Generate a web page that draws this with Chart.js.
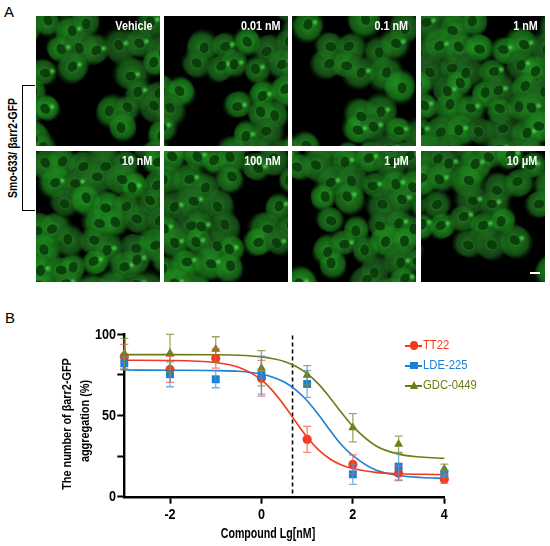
<!DOCTYPE html>
<html>
<head>
<meta charset="utf-8">
<script src="https://cdn.jsdelivr.net/npm/chart.js@4.4.1/dist/chart.umd.min.js"></script>
<style>
  html, body { margin: 0; padding: 0; background: #fff; }
  #fig {
    position: relative; width: 550px; height: 546px; overflow: hidden;
    font-family: "Liberation Sans", Arial, sans-serif;
  }
  .panel-letter { position: absolute; font: 15px "Liberation Sans", Arial, sans-serif; color: #000; }
  .micro { position: absolute; display: block; }
  .micro-tag {
    position: absolute; color: #fff; font-weight: bold; font-size: 13.5px; line-height: 13px;
    white-space: nowrap; transform: scaleX(0.8); transform-origin: right center;
  }
  .bracket { position: absolute; border: 1.3px solid #000; border-right: none; }
  .rot { position: absolute; white-space: nowrap; font-weight: bold; line-height: 1; }
  #chart-wrap { position: absolute; left: 0; top: 300px; width: 550px; height: 246px; }
  .legend-row { position: absolute; left: 405px; height: 14px; }
  .legend-row .seg { position: absolute; left: 0; top: 6.3px; width: 17px; height: 1.5px; }
  .legend-row .mk { position: absolute; }
  .legend-row .txt {
    position: absolute; left: 18px; top: -0.5px; font-size: 12.5px; line-height: 14px; white-space: nowrap;
    transform: scaleX(0.9); transform-origin: left center;
  }
</style>
</head>
<body>
<div id="fig">
  <div class="panel-letter" style="left:4px; top:3px;">A</div>
  <div class="panel-letter" style="left:5px; top:309px;">B</div>

  <div id="micro-layer"></div>

  <div class="bracket" style="left:22px; top:84.5px; width:12px; height:124px;"></div>
  <div class="rot" id="bracket-label" style="font-size:13px;">Smo-633/ βarr2-GFP</div>

  <div id="chart-wrap"><canvas id="dose-chart" width="550" height="246"></canvas></div>

  <div class="rot" id="ytitle-1" style="font-size:12.5px;">The number of βarr2-GFP</div>
  <div class="rot" id="ytitle-2" style="font-size:12.5px;">aggregation (%)</div>
  <div class="rot" id="xtitle" style="font-size:14px;">Compound Lg[nM]</div>

  <div id="legend"></div>
</div>

<script>
// --- Data ---
const doses = [-3, -2, -1, 0, 1, 2, 3, 4];           // Lg[nM]
const tt22Mean   = [86.2, 78.4, 85.2, 72.9, 35.3, 19.9, 14.4, 10.7];
const tt22Err    = [7.6, 8.0, 6.0, 11.0, 8.0, 5.8, 4.5, 2.5];
const lde225Mean = [82.1, 75.4, 72.3, 74.9, 69.4, 13.8, 18.5, 14.0];
const lde225Err  = [4.0, 7.7, 5.2, 11.7, 8.2, 6.2, 8.2, 2.0];
const gdcMean    = [88.0, 88.3, 90.8, 79.1, 74.9, 42.5, 32.3, 17.1];
const gdcErr     = [9.5, 11.7, 7.7, 10.8, 5.8, 8.7, 5.0, 3.0];

// fitted curves
const curveX     = [-3, -2, -1, -0.5, 0, 0.25, 0.5, 0.75, 1, 1.25, 1.5, 1.75, 2, 2.5, 3, 3.5, 4];
const tt22Fit    = [84.0, 83.9, 82.6, 79.7, 71.9, 65.0, 56.2, 46.2, 36.6, 28.8, 23.2, 19.5, 17.4, 15.0, 14.1, 13.8, 13.6];
const lde225Fit  = [78.0, 77.9, 77.7, 77.2, 75.4, 73.6, 70.6, 65.8, 59.1, 50.4, 40.9, 32.0, 25.3, 16.4, 13.1, 11.8, 11.3];
const gdcFit     = [87.5, 87.5, 87.4, 87.1, 86.1, 85.0, 83.3, 80.3, 75.8, 69.3, 61.0, 51.8, 43.3, 31.4, 26.2, 24.4, 23.6];

const ic50Line = 0.68;
const xTicks = [-2, 0, 2, 4];
const yTicks = [0, 25, 50, 75, 100];
const yLabels = [0, 50, 100];

const seriesNames = ['TT22', 'LDE-225', 'GDC-0449'];
const seriesColors = ['#f4391f', '#1d7fd3', '#6b7d14'];
const errColors = ['rgba(244,90,70,0.75)', 'rgba(70,150,220,0.75)', 'rgba(120,140,50,0.75)'];
const markerStyles = ['circle', 'rect', 'triangle'];
const markerSizes = [4.6, 5.6, 5.2];

const panelTags = ['Vehicle', '0.01 nM', '0.1 nM', '1 nM', '10 nM', '100 nM', '1 μM', '10 μM'];

// --- Layout helpers ---
function placeRotated(id, cx, cy, squeeze) {
  const el = document.getElementById(id);
  el.style.left = cx + 'px';
  el.style.top = cy + 'px';
  el.style.transform = `translate(-50%, -50%) rotate(-90deg) scaleX(${squeeze})`;
}
function placeCentered(id, cx, cy, squeeze) {
  const el = document.getElementById(id);
  el.style.left = cx + 'px';
  el.style.top = cy + 'px';
  el.style.transform = `translate(-50%, -50%) scaleX(${squeeze})`;
}

// --- Panel A: micrograph stand-ins ---
const panelCols = [36, 164, 292, 421];
const panelRows = [{ top: 16, h: 130 }, { top: 151, h: 131 }];
const panelW = 124;

function paintCells(canvas, seed) {
  const ctx = canvas.getContext('2d');
  const w = canvas.width, h = canvas.height;
  ctx.fillStyle = '#000';
  ctx.fillRect(0, 0, w, h);
  const hash = n => { const s = Math.sin(n * 127.1 + seed * 311.7) * 43758.5453; return s - Math.floor(s); };

  const cells = [];
  let k = 0;
  for (let gy = -1; gy < 7; gy++) {
    for (let gx = -1; gx < 7; gx++) {
      k++;
      const cx = gx * 21 + 10 + (gy % 2) * 10 + (hash(k + 0.31) - 0.5) * 12;
      const cy = gy * 21 + 10 + (hash(k + 0.77) - 0.5) * 12;
      const region = hash(Math.floor((cx + 30) / 48) * 7.3 + Math.floor((cy + 30) / 48) * 3.1 + 0.5);
      if (region < 0.22 || hash(k) < 0.1) continue;
      cells.push({ cx, cy, r: 15 + hash(k + 0.93) * 6, rot: hash(k + 1.13) * 3, b: 0.65 + hash(k + 1.7) * 0.35, k });
    }
  }
  // cytoplasm, soft and overlapping
  cells.forEach(c => {
    const g = ctx.createRadialGradient(c.cx, c.cy, 3, c.cx, c.cy, c.r);
    g.addColorStop(0, `rgba(35,${Math.round(165 * c.b)},35,0.85)`);
    g.addColorStop(0.6, `rgba(28,${Math.round(140 * c.b)},28,0.7)`);
    g.addColorStop(1, 'rgba(10,60,10,0)');
    ctx.fillStyle = g;
    ctx.beginPath();
    ctx.ellipse(c.cx, c.cy, c.r, c.r * 0.8, c.rot, 0, Math.PI * 2);
    ctx.fill();
  });
  // nuclei and perinuclear spots
  cells.forEach(c => {
    const nx = c.cx + (hash(c.k + 2.1) - 0.5) * 5, ny = c.cy + (hash(c.k + 2.5) - 0.5) * 5;
    ctx.fillStyle = 'rgba(8,55,8,0.85)';
    ctx.strokeStyle = 'rgba(50,160,50,0.35)';
    ctx.lineWidth = 1;
    ctx.beginPath();
    ctx.ellipse(nx, ny, 5.8, 4.8, c.rot, 0, Math.PI * 2);
    ctx.fill();
    ctx.stroke();
    if (hash(c.k + 3.3) > 0.6) {
      const sx = nx + 7, sy = ny - 2;
      const s = ctx.createRadialGradient(sx, sy, 0, sx, sy, 4);
      s.addColorStop(0, 'rgba(90,235,90,0.85)');
      s.addColorStop(1, 'rgba(50,180,50,0)');
      ctx.fillStyle = s;
      ctx.beginPath(); ctx.arc(sx, sy, 4, 0, Math.PI * 2); ctx.fill();
    }
  });
}

function buildMicrographs() {
  const layer = document.getElementById('micro-layer');
  panelTags.forEach((tag, i) => {
    const row = panelRows[Math.floor(i / 4)];
    const left = panelCols[i % 4];
    const cv = document.createElement('canvas');
    cv.className = 'micro';
    cv.width = panelW; cv.height = row.h;
    cv.style.left = left + 'px'; cv.style.top = row.top + 'px';
    layer.appendChild(cv);
    paintCells(cv, i + 1);
    const t = document.createElement('div');
    t.className = 'micro-tag';
    t.textContent = tag;
    t.style.right = (550 - left - panelW + 7.5) + 'px';
    t.style.top = (row.top + 3) + 'px';
    layer.appendChild(t);
  });
  const bar = document.createElement('div');
  bar.style.cssText = 'position:absolute;left:530px;top:272px;width:10px;height:2px;background:#fff;';
  layer.appendChild(bar);
}

// --- Legend ---
function buildLegend() {
  const el = document.getElementById('legend');
  const rowsY = [338.9, 358.9, 378.9];
  el.innerHTML = seriesNames.map((name, i) => {
    const c = seriesColors[i];
    let mk;
    if (i === 0) mk = `<div class="mk" style="left:4.5px;top:2.5px;width:8.5px;height:8.5px;border-radius:50%;background:${c};"></div>`;
    else if (i === 1) mk = `<div class="mk" style="left:5px;top:3px;width:7.5px;height:7.5px;background:${c};"></div>`;
    else mk = `<div class="mk" style="left:4.5px;top:2px;width:0;height:0;border-left:4.5px solid transparent;border-right:4.5px solid transparent;border-bottom:8px solid ${c};"></div>`;
    return `<div class="legend-row" style="top:${rowsY[i]}px;">
      <div class="seg" style="background:${c};"></div>${mk}
      <div class="txt" style="color:${c};">${name}</div></div>`;
  }).join('');
}

// --- Panel B chart ---
function drawNarrow(ctx, text, px, py, squeeze) {
  ctx.save();
  ctx.translate(px, py);
  ctx.scale(squeeze, 1);
  ctx.fillText(text, 0, 0);
  ctx.restore();
}

const errorBarPlugin = {
  id: 'errorBars',
  afterDatasetsDraw(chart) {
    const { ctx, scales: { x, y } } = chart;
    const means = [tt22Mean, lde225Mean, gdcMean];
    const errs = [tt22Err, lde225Err, gdcErr];
    means.forEach((m, s) => {
      ctx.save();
      ctx.strokeStyle = errColors[s];
      ctx.lineWidth = 1.3;
      doses.forEach((d, i) => {
        const px = x.getPixelForValue(d);
        const top = y.getPixelForValue(m[i] + errs[s][i]);
        const bot = y.getPixelForValue(m[i] - errs[s][i]);
        ctx.beginPath();
        ctx.moveTo(px, top); ctx.lineTo(px, bot);
        ctx.moveTo(px - 4, top); ctx.lineTo(px + 4, top);
        ctx.moveTo(px - 4, bot); ctx.lineTo(px + 4, bot);
        ctx.stroke();
      });
      ctx.restore();
    });
  }
};

// tick labels in a condensed bold face, placed by the chart's own scales
const tickLabelPlugin = {
  id: 'tickLabels',
  afterDraw(chart) {
    const { ctx, chartArea, scales: { x, y } } = chart;
    ctx.save();
    ctx.fillStyle = '#000';
    ctx.font = 'bold 14px "Liberation Sans", Arial, sans-serif';
    ctx.textBaseline = 'middle';
    ctx.textAlign = 'center';
    xTicks.forEach(v => drawNarrow(ctx, String(v), x.getPixelForValue(v), chartArea.bottom + 18.5, 0.9));
    ctx.textAlign = 'right';
    yLabels.forEach(v => drawNarrow(ctx, String(v), chartArea.left - 8.3, y.getPixelForValue(v) + 0.5, 0.9));
    ctx.restore();
  }
};

function createChart() {
  Chart.defaults.font.family = '"Liberation Sans", Arial, sans-serif';
  Chart.defaults.color = '#000';

  const fits = [tt22Fit, lde225Fit, gdcFit];
  const means = [tt22Mean, lde225Mean, gdcMean];

  const curveSets = fits.map((f, i) => ({
    label: seriesNames[i] + ' fit',
    data: curveX.map((xv, j) => ({ x: xv, y: f[j] })),
    showLine: true, borderColor: seriesColors[i], borderWidth: 1.6,
    pointRadius: 0, cubicInterpolationMode: 'monotone', order: 10 + i, clip: false,
  }));
  const pointSets = means.map((m, i) => ({
    label: seriesNames[i],
    data: doses.map((d, j) => ({ x: d, y: m[j] })),
    showLine: false, pointStyle: markerStyles[i], pointRadius: markerSizes[i],
    backgroundColor: seriesColors[i], borderWidth: 0, order: 3 - i, clip: false,
  }));
  const dashSet = {
    label: 'IC50',
    data: [{ x: ic50Line, y: 2 }, { x: ic50Line, y: 100 }],
    showLine: true, borderColor: '#000', borderWidth: 1.6, borderDash: [4, 3],
    pointRadius: 0, order: 20,
  };

  const axisGrid = { display: true, drawOnChartArea: false, drawTicks: true, tickLength: 7, tickWidth: 2, tickColor: '#000' };
  const axisBorder = { display: true, color: '#000', width: 2.4 };

  new Chart(document.getElementById('dose-chart'), {
    type: 'scatter',
    data: { datasets: [...pointSets, ...curveSets, dashSet] },
    options: {
      responsive: false, animation: false,
      layout: { padding: { left: 0, top: 34.3, right: 105.7, bottom: 0 } },
      plugins: { legend: { display: false }, tooltip: { enabled: false } },
      scales: {
        x: {
          type: 'linear', min: -3, max: 4,
          afterBuildTicks: s => { s.ticks = xTicks.map(v => ({ value: v })); },
          afterFit: s => { s.height = 49.3; },
          grid: axisGrid, border: axisBorder,
          ticks: { display: false },
        },
        y: {
          type: 'linear', min: 0, max: 100,
          afterBuildTicks: s => { s.ticks = yTicks.map(v => ({ value: v })); },
          afterFit: s => { s.width = 124.3; },
          grid: axisGrid, border: axisBorder,
          ticks: { display: false },
        },
      },
    },
    plugins: [errorBarPlugin, tickLabelPlugin],
  });
}

placeRotated('bracket-label', 12, 148, 0.8);
placeRotated('ytitle-1', 67.3, 424, 0.87);
placeRotated('ytitle-2', 85, 421, 0.87);
placeCentered('xtitle', 267.5, 533, 0.76);
buildMicrographs();
buildLegend();
createChart();
</script>
</body>
</html>
